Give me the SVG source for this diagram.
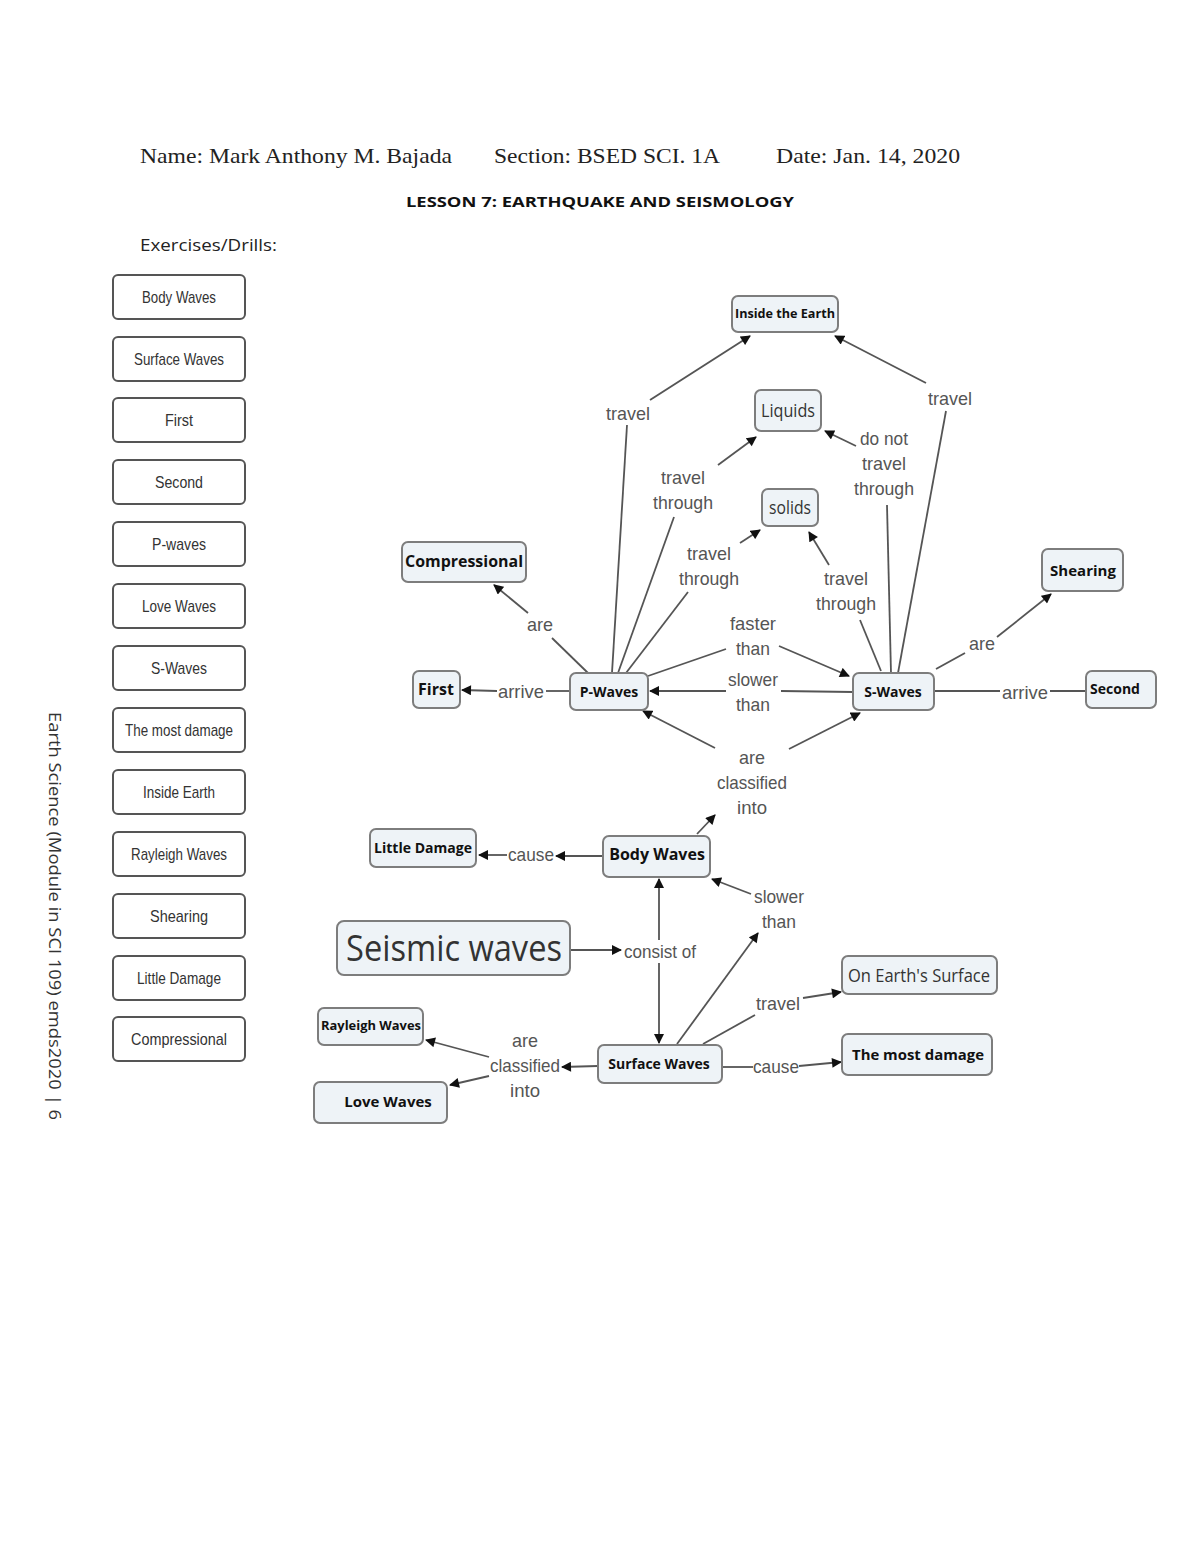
<svg xmlns="http://www.w3.org/2000/svg" width="1200" height="1553" viewBox="0 0 1200 1553">
<style>
.hdr{font-family:"Liberation Serif",serif;font-size:22px;fill:#222}
.title{font-family:"Open Sans","Liberation Sans",sans-serif;font-size:15px;font-weight:bold;fill:#111}
.ex{font-family:"Open Sans","Liberation Sans",sans-serif;font-size:17px;fill:#222}
.side{font-family:"Open Sans","Liberation Sans",sans-serif;font-size:17px;fill:#333}
.lb rect{fill:#fff;stroke:#555;stroke-width:2}
.lb text{font-family:"Liberation Sans",sans-serif;font-size:17px;fill:#333;text-anchor:middle}
.nd rect{fill:#eef3f7;stroke:#7d7d7d;stroke-width:2}
.nd text{font-family:"Open Sans","Liberation Sans",sans-serif;fill:#111;text-anchor:middle;font-weight:bold}
.nd text.r{font-weight:normal;fill:#333}
.lbl{font-family:"Liberation Sans",sans-serif;font-size:19px;fill:#555;text-anchor:middle}
.c line{stroke:#555;stroke-width:1.8;fill:none}
.c line.a{marker-end:url(#ah)}
</style>
<defs>
<marker id="ah" viewBox="0 0 10 10" refX="9" refY="5" markerWidth="11" markerHeight="10" markerUnits="userSpaceOnUse" orient="auto">
<path d="M0,0 L10,5 L0,10 z" fill="#111"/>
</marker>
</defs>
<rect width="1200" height="1553" fill="#fff"/>

<g id="header">
<text class="hdr" x="140" y="163" textLength="312" lengthAdjust="spacingAndGlyphs">Name: Mark Anthony M. Bajada</text>
<text class="hdr" x="494" y="163" textLength="226" lengthAdjust="spacingAndGlyphs">Section: BSED SCI. 1A</text>
<text class="hdr" x="776" y="163" textLength="184" lengthAdjust="spacingAndGlyphs">Date: Jan. 14, 2020</text>
<text class="title" x="406" y="207" textLength="388" lengthAdjust="spacingAndGlyphs">LESSON 7: EARTHQUAKE AND SEISMOLOGY</text>
<text class="ex" x="140" y="251" textLength="137" lengthAdjust="spacingAndGlyphs">Exercises/Drills:</text>
<text class="side" transform="translate(49,712) rotate(90)" textLength="408" lengthAdjust="spacingAndGlyphs">Earth Science (Module in SCI 109) emds2020 | 6</text>
</g>

<g id="wordbank">
<g class="lb" id="wb1"><rect x="113" y="275" width="132" height="44" rx="5"/><text x="179" y="303" textLength="74" lengthAdjust="spacingAndGlyphs">Body Waves</text></g>
<g class="lb" id="wb2"><rect x="113" y="337" width="132" height="44" rx="5"/><text x="179" y="365" textLength="90" lengthAdjust="spacingAndGlyphs">Surface Waves</text></g>
<g class="lb" id="wb3"><rect x="113" y="398" width="132" height="44" rx="5"/><text x="179" y="426" textLength="28" lengthAdjust="spacingAndGlyphs">First</text></g>
<g class="lb" id="wb4"><rect x="113" y="460" width="132" height="44" rx="5"/><text x="179" y="488" textLength="48" lengthAdjust="spacingAndGlyphs">Second</text></g>
<g class="lb" id="wb5"><rect x="113" y="522" width="132" height="44" rx="5"/><text x="179" y="550" textLength="54" lengthAdjust="spacingAndGlyphs">P-waves</text></g>
<g class="lb" id="wb6"><rect x="113" y="584" width="132" height="44" rx="5"/><text x="179" y="612" textLength="74" lengthAdjust="spacingAndGlyphs">Love Waves</text></g>
<g class="lb" id="wb7"><rect x="113" y="646" width="132" height="44" rx="5"/><text x="179" y="674" textLength="56" lengthAdjust="spacingAndGlyphs">S-Waves</text></g>
<g class="lb" id="wb8"><rect x="113" y="708" width="132" height="44" rx="5"/><text x="179" y="736" textLength="108" lengthAdjust="spacingAndGlyphs">The most damage</text></g>
<g class="lb" id="wb9"><rect x="113" y="770" width="132" height="44" rx="5"/><text x="179" y="798" textLength="72" lengthAdjust="spacingAndGlyphs">Inside Earth</text></g>
<g class="lb" id="wb10"><rect x="113" y="832" width="132" height="44" rx="5"/><text x="179" y="860" textLength="96" lengthAdjust="spacingAndGlyphs">Rayleigh Waves</text></g>
<g class="lb" id="wb11"><rect x="113" y="894" width="132" height="44" rx="5"/><text x="179" y="922" textLength="58" lengthAdjust="spacingAndGlyphs">Shearing</text></g>
<g class="lb" id="wb12"><rect x="113" y="956" width="132" height="44" rx="5"/><text x="179" y="984" textLength="84" lengthAdjust="spacingAndGlyphs">Little Damage</text></g>
<g class="lb" id="wb13"><rect x="113" y="1017" width="132" height="44" rx="5"/><text x="179" y="1045" textLength="96" lengthAdjust="spacingAndGlyphs">Compressional</text></g>
</g>

<g id="connectors" class="c">
<line x1="612" y1="673" x2="627" y2="425"/>
<line class="a" x1="650" y1="400" x2="750" y2="336"/>
<line x1="618" y1="673" x2="674" y2="517"/>
<line class="a" x1="718" y1="465" x2="756" y2="437"/>
<line x1="626" y1="673" x2="688" y2="592"/>
<line class="a" x1="740" y1="543" x2="760" y2="530"/>
<line x1="891" y1="673" x2="887" y2="505"/>
<line class="a" x1="856" y1="446" x2="825" y2="431"/>
<line x1="898" y1="673" x2="946" y2="411"/>
<line class="a" x1="926" y1="383" x2="835" y2="336"/>
<line x1="881" y1="671" x2="860" y2="620"/>
<line class="a" x1="829" y1="565" x2="809" y2="532"/>
<line x1="588" y1="673" x2="552" y2="638"/>
<line class="a" x1="528" y1="613" x2="494" y2="585"/>
<line x1="570" y1="691" x2="546" y2="691"/>
<line class="a" x1="497" y1="691" x2="462" y2="690"/>
<line x1="648" y1="676" x2="726" y2="649"/>
<line class="a" x1="779" y1="646" x2="849" y2="676"/>
<line x1="853" y1="692" x2="781" y2="691"/>
<line class="a" x1="726" y1="691" x2="650" y2="691"/>
<line x1="936" y1="669" x2="965" y2="653"/>
<line class="a" x1="997" y1="637" x2="1051" y2="594"/>
<line x1="934" y1="691" x2="1000" y2="691"/>
<line x1="1050" y1="691" x2="1086" y2="691"/>
<line class="a" x1="697" y1="834" x2="715" y2="815"/>
<line class="a" x1="715" y1="748" x2="643" y2="711"/>
<line class="a" x1="789" y1="749" x2="860" y2="713"/>
<line class="a" x1="603" y1="856" x2="556" y2="856"/>
<line class="a" x1="507" y1="855" x2="479" y2="855"/>
<line class="a" x1="570" y1="950" x2="621" y2="950"/>
<line class="a" x1="659" y1="940" x2="659" y2="879"/>
<line class="a" x1="659" y1="963" x2="659" y2="1043"/>
<line class="a" x1="677" y1="1044" x2="758" y2="933"/>
<line class="a" x1="751" y1="894" x2="712" y2="879"/>
<line x1="703" y1="1044" x2="755" y2="1015"/>
<line class="a" x1="803" y1="998" x2="841" y2="992"/>
<line x1="722" y1="1067" x2="753" y2="1067"/>
<line class="a" x1="799" y1="1066" x2="841" y2="1062"/>
<line class="a" x1="598" y1="1066" x2="562" y2="1067"/>
<line class="a" x1="489" y1="1057" x2="426" y2="1040"/>
<line class="a" x1="489" y1="1076" x2="450" y2="1085"/>
</g>

<g id="linklabels">
<text class="lbl" x="628" y="420" textLength="44" lengthAdjust="spacingAndGlyphs">travel</text>
<text class="lbl" x="683" y="484" textLength="44" lengthAdjust="spacingAndGlyphs">travel</text>
<text class="lbl" x="683" y="509" textLength="60" lengthAdjust="spacingAndGlyphs">through</text>
<text class="lbl" x="709" y="560" textLength="44" lengthAdjust="spacingAndGlyphs">travel</text>
<text class="lbl" x="709" y="585" textLength="60" lengthAdjust="spacingAndGlyphs">through</text>
<text class="lbl" x="884" y="445" textLength="48" lengthAdjust="spacingAndGlyphs">do not</text>
<text class="lbl" x="884" y="470" textLength="44" lengthAdjust="spacingAndGlyphs">travel</text>
<text class="lbl" x="884" y="495" textLength="60" lengthAdjust="spacingAndGlyphs">through</text>
<text class="lbl" x="950" y="405" textLength="44" lengthAdjust="spacingAndGlyphs">travel</text>
<text class="lbl" x="846" y="585" textLength="44" lengthAdjust="spacingAndGlyphs">travel</text>
<text class="lbl" x="846" y="610" textLength="60" lengthAdjust="spacingAndGlyphs">through</text>
<text class="lbl" x="540" y="631" textLength="26" lengthAdjust="spacingAndGlyphs">are</text>
<text class="lbl" x="521" y="698" textLength="46" lengthAdjust="spacingAndGlyphs">arrive</text>
<text class="lbl" x="753" y="630" textLength="46" lengthAdjust="spacingAndGlyphs">faster</text>
<text class="lbl" x="753" y="655" textLength="34" lengthAdjust="spacingAndGlyphs">than</text>
<text class="lbl" x="753" y="686" textLength="50" lengthAdjust="spacingAndGlyphs">slower</text>
<text class="lbl" x="753" y="711" textLength="34" lengthAdjust="spacingAndGlyphs">than</text>
<text class="lbl" x="982" y="650" textLength="26" lengthAdjust="spacingAndGlyphs">are</text>
<text class="lbl" x="1025" y="699" textLength="46" lengthAdjust="spacingAndGlyphs">arrive</text>
<text class="lbl" x="752" y="764" textLength="26" lengthAdjust="spacingAndGlyphs">are</text>
<text class="lbl" x="752" y="789" textLength="70" lengthAdjust="spacingAndGlyphs">classified</text>
<text class="lbl" x="752" y="814" textLength="30" lengthAdjust="spacingAndGlyphs">into</text>
<text class="lbl" x="531" y="861" textLength="46" lengthAdjust="spacingAndGlyphs">cause</text>
<text class="lbl" x="660" y="958" textLength="72" lengthAdjust="spacingAndGlyphs">consist of</text>
<text class="lbl" x="779" y="903" textLength="50" lengthAdjust="spacingAndGlyphs">slower</text>
<text class="lbl" x="779" y="928" textLength="34" lengthAdjust="spacingAndGlyphs">than</text>
<text class="lbl" x="778" y="1010" textLength="44" lengthAdjust="spacingAndGlyphs">travel</text>
<text class="lbl" x="776" y="1073" textLength="46" lengthAdjust="spacingAndGlyphs">cause</text>
<text class="lbl" x="525" y="1047" textLength="26" lengthAdjust="spacingAndGlyphs">are</text>
<text class="lbl" x="525" y="1072" textLength="70" lengthAdjust="spacingAndGlyphs">classified</text>
<text class="lbl" x="525" y="1097" textLength="30" lengthAdjust="spacingAndGlyphs">into</text>
</g>

<g id="n-inside" class="nd"><rect x="732" y="296" width="106" height="36" rx="6"/><text x="785" y="318" font-size="12" textLength="100" lengthAdjust="spacingAndGlyphs">Inside the Earth</text></g>
<g id="n-liquids" class="nd"><rect x="755" y="390" width="66" height="41" rx="6"/><text class="r" x="788" y="417" font-size="18" textLength="54" lengthAdjust="spacingAndGlyphs">Liquids</text></g>
<g id="n-solids" class="nd"><rect x="762" y="489" width="56" height="37" rx="6"/><text class="r" x="790" y="514" font-size="18" textLength="42" lengthAdjust="spacingAndGlyphs">solids</text></g>
<g id="n-compressional" class="nd"><rect x="402" y="542" width="124" height="40" rx="6"/><text x="464" y="567" font-size="16" textLength="118" lengthAdjust="spacingAndGlyphs">Compressional</text></g>
<g id="n-shearing" class="nd"><rect x="1042" y="549" width="81" height="42" rx="6"/><text x="1083" y="576" font-size="15">Shearing</text></g>
<g id="n-first" class="nd"><rect x="413" y="671" width="47" height="37" rx="6"/><text x="436" y="695" font-size="16">First</text></g>
<g id="n-pwaves" class="nd"><rect x="570" y="673" width="78" height="37" rx="6"/><text x="609" y="697" font-size="14">P-Waves</text></g>
<g id="n-swaves" class="nd"><rect x="853" y="673" width="81" height="37" rx="6"/><text x="893" y="697" font-size="14">S-Waves</text></g>
<g id="n-second" class="nd"><rect x="1086" y="671" width="70" height="37" rx="6"/><text x="1115" y="694" font-size="14">Second</text></g>
<g id="n-body" class="nd"><rect x="603" y="836" width="107" height="41" rx="6"/><text x="657" y="860" font-size="16">Body Waves</text></g>
<g id="n-little" class="nd"><rect x="370" y="829" width="106" height="38" rx="6"/><text x="423" y="853" font-size="14" textLength="98" lengthAdjust="spacingAndGlyphs">Little Damage</text></g>
<g id="n-seismic" class="nd"><rect x="337" y="921" width="233" height="54" rx="7"/><text class="r" x="454" y="961" font-size="36" textLength="216" lengthAdjust="spacingAndGlyphs">Seismic waves</text></g>
<g id="n-onsurface" class="nd"><rect x="842" y="956" width="155" height="38" rx="6"/><text class="r" x="919" y="982" font-size="18" textLength="142" lengthAdjust="spacingAndGlyphs">On Earth's Surface</text></g>
<g id="n-surface" class="nd"><rect x="598" y="1045" width="124" height="38" rx="6"/><text x="659" y="1069" font-size="14">Surface Waves</text></g>
<g id="n-mostdamage" class="nd"><rect x="842" y="1034" width="150" height="41" rx="6"/><text x="918" y="1060" font-size="15" textLength="132" lengthAdjust="spacingAndGlyphs">The most damage</text></g>
<g id="n-rayleigh" class="nd"><rect x="318" y="1008" width="105" height="37" rx="6"/><text x="371" y="1030" font-size="13" textLength="100" lengthAdjust="spacingAndGlyphs">Rayleigh Waves</text></g>
<g id="n-love" class="nd"><rect x="314" y="1082" width="133" height="41" rx="6"/><text x="388" y="1107" font-size="15">Love Waves</text></g>
</svg>
